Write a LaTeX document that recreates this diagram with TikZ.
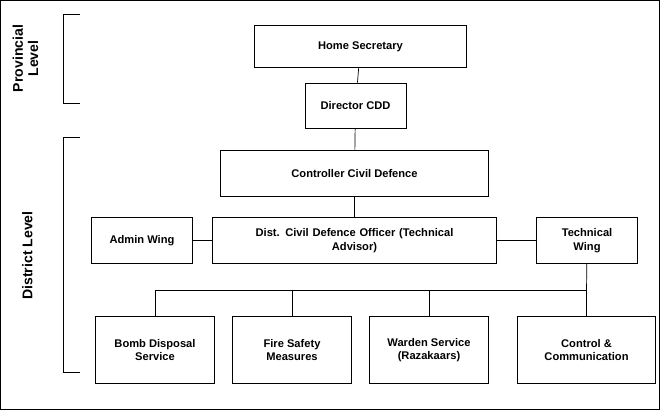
\documentclass[tikz,border=0pt]{standalone}
\usepackage{fontspec}
\setmainfont{Liberation Sans}
\usetikzlibrary{arrows,positioning}
\begin{document}
\begin{tikzpicture}[x=0.03cm,y=-0.03cm,semithick,
    font=\fontsize{9.5}{11.5}\selectfont\bfseries]
  \tikzstyle{box}=[draw,rectangle,align=center,inner sep=2pt]
  \tikzstyle{level}=[rotate=90,align=center,font=\fontsize{12}{13}\selectfont\bfseries]

  \draw[thick] (0,0) rectangle (659,409);

  \node[box,minimum width=212*0.03cm,minimum height=42*0.03cm] (home) at (360,46) {Home Secretary};
  \node[box,minimum width=101*0.03cm,minimum height=45*0.03cm] (dir) at (355,105) {Director CDD};
  \node[box,minimum width=268*0.03cm,minimum height=46*0.03cm] (ctrl) at (354,173) {Controller Civil Defence};
  \node[box,minimum width=284*0.03cm,minimum height=46*0.03cm,text width=260*0.03cm] (dist) at (354,240) {Dist. Civil Defence Officer (Technical\\ Advisor)};
  \node[box,minimum width=101*0.03cm,minimum height=46*0.03cm] (admin) at (141.5,240) {Admin Wing};
  \node[box,minimum width=101*0.03cm,minimum height=46*0.03cm] (tech) at (586.5,240) {Technical\\ Wing};

  \node[box,minimum width=119*0.03cm,minimum height=67*0.03cm] (bomb) at (154.5,349.5) {Bomb Disposal\\ Service};
  \node[box,minimum width=119*0.03cm,minimum height=67*0.03cm] (fire) at (291.5,349.5) {Fire Safety\\ Measures};
  \node[box,minimum width=119*0.03cm,minimum height=67*0.03cm] (ward) at (428.5,349.5) {Warden Service\\ (Razakaars)};
  \node[box,minimum width=138*0.03cm,minimum height=67*0.03cm] (comm) at (586,349.5) {Control \&\\ Communication};

  \coordinate (bus) at (586,290);
  \draw (home) -- (dir);
  \draw (dir) -- (ctrl);
  \draw (ctrl) -- (dist);
  \draw (admin) -- (dist);
  \draw (dist) -- (tech);
  \draw (tech) -- (bus);
  \draw (bomb.north) |- (bus) -- (comm.north);
  \draw (fire.north) -- (fire.north |- bus);
  \draw (ward.north) -- (ward.north |- bus);

  % level brackets
  \draw (80,14) -- (63,14) -- (63,103) -- (80,103);
  \draw (80,137) -- (63,137) -- (63,372) -- (80,372);
  \node[level] (prov) at (25,58) {Provincial\\ Level};
  \node[level] (distl) at (27,255) {District Level};
\end{tikzpicture}
\end{document}
